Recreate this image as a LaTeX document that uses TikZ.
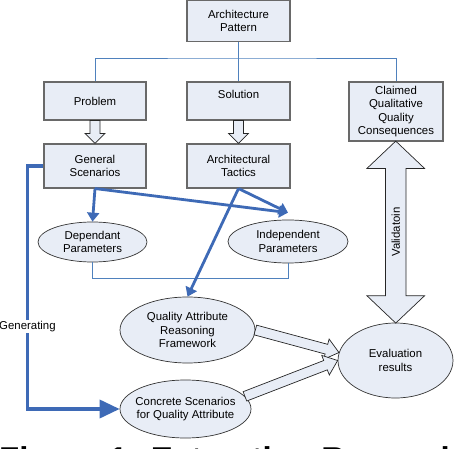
\documentclass[tikz,border=0pt]{standalone}
\usepackage{fontspec}
\setmainfont{Liberation Sans}
\usetikzlibrary{shapes, arrows.meta, positioning, calc}
\definecolor{boxfill}{RGB}{232, 237, 246}
\definecolor{boxline}{RGB}{105, 105, 105}
\definecolor{linkblue}{RGB}{79, 129, 189}
\definecolor{flowblue}{RGB}{62, 106, 182}

\tikzset{
  txt/.style={font=\fontsize{11.4}{13.6}\selectfont},
  pbox/.style={txt, draw=boxline, fill=boxfill, line width=1.1pt, align=center, inner sep=2pt},
  pell/.style={txt, ellipse, draw=black!80, fill=boxfill, line width=0.7pt, align=center, inner sep=-6pt},
  thinlink/.style={draw=linkblue, line width=0.9pt},
  flow/.style={draw=flowblue, line width=2.8pt, -{Triangle[length=9pt, width=12pt]}},
  hollow/.style={draw=black!85, fill=boxfill, line width=0.7pt},
  dblarrow/.style={txt, double arrow, draw=black!85, fill=boxfill, line width=0.7pt,
    double arrow head extend=18.5pt, double arrow tip angle=93, inner xsep=0pt, inner ysep=5.8pt},
}

% hollow block arrow: from, to, half shaft, half head, head length
\newcommand{\blockarrow}[5]{%
  \coordinate (ba-base) at ($(#2)!#5!(#1)$);
  \draw[hollow] ($(#1)!#3!90:(#2)$) -- ($(ba-base)!#3!90:(#2)$) -- ($(ba-base)!#4!90:(#2)$)
    -- (#2) -- ($(ba-base)!#4!-90:(#2)$) -- ($(ba-base)!#3!-90:(#2)$) -- ($(#1)!#3!-90:(#2)$) -- cycle;}

\begin{document}
\begin{tikzpicture}[x=1pt, y=-1pt]
  \useasboundingbox (0,0) rectangle (474,449);
  \clip (0,0) rectangle (474,449);

  % boxes
  \node[pbox, minimum width=103, minimum height=41] (pattern) at (238.5,21) {Architecture\\Pattern};
  \node[pbox, minimum width=102, minimum height=38] (problem) at (95,101) {Problem};
  \node[pbox, minimum width=103, minimum height=38] (solution) at (238.5,101) {Solution\\~};
  \node[pbox, minimum width=94, minimum height=59] (claimed) at (396,111.5) {Claimed\\Qualitative\\Quality\\Consequences};
  \node[pbox, minimum width=102, minimum height=44] (general) at (95,166) {General\\Scenarios};
  \node[pbox, minimum width=103, minimum height=44] (tactics) at (238.5,166) {Architectural\\Tactics};

  % ellipses
  \node[pell, minimum width=109, minimum height=40] (dependant) at (92.5,242) {Dependant\\Parameters};
  \node[pell, minimum width=120, minimum height=43] (independent) at (288,241.5) {Independent\\Parameters};
  \node[pell, minimum width=135, minimum height=66] (reasoning) at (187.5,330) {Quality Attribute\\Reasoning\\Framework};
  \node[pell, minimum width=115, minimum height=75] (evaluation) at (395.5,360.5) {Evaluation\\results};
  \node[pell, minimum width=131, minimum height=58] (concrete) at (185.5,409) {Concrete Scenarios\\for Quality Attribute};

  % thin links
  \coordinate (bus) at (238.5,58);
  \draw[thinlink] (pattern.south) -- (solution.north);
  \draw[thinlink] (problem.north) |- (bus) -| (claimed.north);
  \draw[thinlink] (dependant.south) -- ++(0,16) -| (independent.south);

  % hollow arrows
  \blockarrow{problem.south}{general.north}{5pt}{10pt}{10pt}
  \blockarrow{solution.south}{tactics.north}{5pt}{10pt}{10pt}
  \blockarrow{reasoning.east}{evaluation.172}{5pt}{10.5pt}{13pt}
  \blockarrow{concrete.12}{evaluation.west}{5pt}{10.5pt}{13pt}
  \node[dblarrow, rotate=90, minimum height=182, minimum width=57] (validation)
    at ($(claimed.south)!0.5!(evaluation.north)$) {Validatoin};

  % flow arrows
  \coordinate (meet) at ($(independent.north)+(0,-7)$);
  \draw[flow] (general.south) -- (dependant.north);
  \draw[flow] (general.south) -- (meet);
  \draw[flow] (tactics.south) -- (meet);
  \draw[flow] (tactics.south) -- (reasoning.north);
  \draw[flow, line width=3.5pt, -{Triangle[length=20pt, width=18pt]}] (general.west) -- ++(-16,0) coordinate (genbend)
    -- (genbend |- concrete.west) node[txt, pos=0.66, fill=white, inner sep=1pt] (generating) {Generating}
    -- (concrete.west);

  \node[anchor=base west, inner sep=0pt, font=\bfseries\fontsize{33}{36}\selectfont] (caption) at (-1,470)
    {Figure 1: Extraction Reasoning Framework};
\end{tikzpicture}
\end{document}
